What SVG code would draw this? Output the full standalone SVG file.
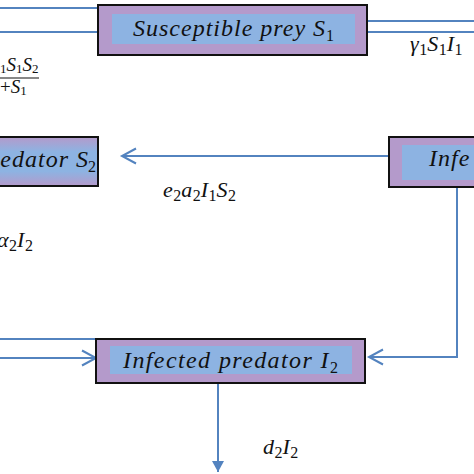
<svg xmlns="http://www.w3.org/2000/svg" width="474" height="474" viewBox="0 0 474 474">
<defs>
<linearGradient id="gradS2" x1="0" y1="0" x2="0" y2="1">
<stop offset="0" stop-color="#B49ACB"/>
<stop offset="0.3" stop-color="#8DB3E2"/>
<stop offset="0.7" stop-color="#8DB3E2"/>
<stop offset="1" stop-color="#B49ACB"/>
</linearGradient>
<marker id="chev" markerUnits="userSpaceOnUse" markerWidth="18" markerHeight="20" refX="15" refY="8" orient="auto" overflow="visible">
<path d="M1,0.5 L15,8 L1,15.5" fill="none" stroke="#5383BF" stroke-width="2"/>
</marker>
<marker id="tri" markerUnits="userSpaceOnUse" markerWidth="14" markerHeight="14" refX="11" refY="6" orient="auto" overflow="visible">
<path d="M0,0 L11,6 L0,12 Z" fill="#5383BF"/>
</marker>
</defs>
<style>
.box{fill:#B49ACB;stroke:#111;stroke-width:2}
.inner{fill:#8DB3E2}
.lbl{font-family:"Liberation Serif","DejaVu Serif",serif;font-style:italic;fill:#111}
.node{font-size:24px;letter-spacing:1px}
.eq{font-size:22px;letter-spacing:0.5px}
.frac{font-size:19px}
.sub{font-size:16px;font-style:normal;letter-spacing:0}
.fsub{font-size:13px;font-style:normal}
.conn{fill:none;stroke:#5383BF;stroke-width:2}
</style>
<rect width="474" height="474" fill="#fff"/>
<g id="connectors">
<line class="conn" x1="0" y1="8" x2="98" y2="8"/>
<line class="conn" x1="0" y1="32" x2="98" y2="32"/>
<line class="conn" x1="367" y1="21" x2="474" y2="21"/>
<line class="conn" x1="367" y1="32" x2="474" y2="32"/>
<line class="conn" x1="389" y1="156" x2="122" y2="156" marker-end="url(#chev)"/>
<polyline class="conn" points="457,188 457,357 369,357" marker-end="url(#chev)"/>
<line class="conn" x1="0" y1="339" x2="96" y2="339"/>
<line class="conn" x1="0" y1="358" x2="96" y2="358" marker-end="url(#chev)"/>
<line class="conn" x1="218" y1="384" x2="218" y2="472" marker-end="url(#tri)"/>
</g>
<g id="node-S1">
<rect class="box" x="98" y="5" width="269" height="50"/>
<rect class="inner" x="112" y="14" width="243" height="30"/>
<text class="lbl node" x="133" y="36">Susceptible prey S<tspan class="sub" dy="5">1</tspan></text>
</g>
<g id="node-S2">
<rect x="-5" y="137" width="103" height="49" fill="url(#gradS2)" stroke="#111" stroke-width="2"/>
<text class="lbl node" x="89" y="167" text-anchor="end">edator S</text>
<text class="lbl sub" x="88" y="172">2</text>
</g>
<g id="node-I1">
<rect class="box" x="389" y="137" width="90" height="50"/>
<rect class="inner" x="402" y="145" width="75" height="35"/>
<text class="lbl node" x="429" y="166">Infe</text>
</g>
<g id="node-I2">
<rect class="box" x="96" y="339" width="269" height="44"/>
<rect class="inner" x="110" y="346" width="242" height="28"/>
<text class="lbl node" x="123" y="368" style="letter-spacing:1.4px">Infected predator I<tspan class="sub" dy="5">2</tspan></text>
</g>
<g id="labels">
<text class="lbl frac" x="0" y="71"><tspan class="fsub" dy="2">1</tspan><tspan dy="-2">S</tspan><tspan class="fsub" dy="2">1</tspan><tspan dy="-2">S</tspan><tspan class="fsub" dy="2">2</tspan></text>
<line x1="0" y1="78" x2="39" y2="78" stroke="#111" stroke-width="1.2"/>
<text class="lbl frac" x="0" y="93"><tspan font-style="normal">+</tspan>S<tspan class="fsub" dy="2">1</tspan></text>
<text class="lbl eq" x="410" y="51">γ<tspan class="sub" dy="4">1</tspan><tspan dy="-4">S</tspan><tspan class="sub" dy="4">1</tspan><tspan dy="-4">I</tspan><tspan class="sub" dy="4">1</tspan></text>
<text class="lbl eq" x="163" y="197">e<tspan class="sub" dy="4">2</tspan><tspan dy="-4">a</tspan><tspan class="sub" dy="4">2</tspan><tspan dy="-4">I</tspan><tspan class="sub" dy="4">1</tspan><tspan dy="-4">S</tspan><tspan class="sub" dy="4">2</tspan></text>
<text class="lbl eq" x="-3" y="247">α<tspan class="sub" dy="4">2</tspan><tspan dy="-4">I</tspan><tspan class="sub" dy="4">2</tspan></text>
<text class="lbl eq" x="263" y="454">d<tspan class="sub" dy="4">2</tspan><tspan dy="-4">I</tspan><tspan class="sub" dy="4">2</tspan></text>
</g>
</svg>
